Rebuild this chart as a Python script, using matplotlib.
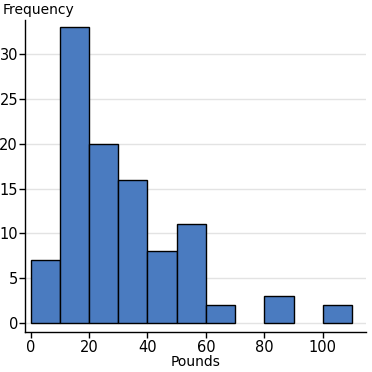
import matplotlib
matplotlib.use("Agg")
import matplotlib.pyplot as plt
import numpy as np

bin_edges = [0, 10, 20, 30, 40, 50, 60, 70, 80, 90, 100, 110]
counts = [7, 33, 20, 16, 8, 11, 2, 0, 3, 0, 2]
x_ticks = [0, 20, 40, 60, 80, 100]
y_ticks = [0, 5, 10, 15, 20, 25, 30]

plt.rcParams['font.family'] = ['DejaVu Sans']
fig = plt.figure(figsize=(3.72, 3.72), dpi=100)
ax = fig.add_axes([25/372, 1-332/372, (366-25)/372, (332-20)/372])

lefts = np.array(bin_edges[:-1])
widths = np.diff(bin_edges)
for l, w, c in zip(lefts, widths, counts):
    if c > 0:
        ax.bar(l, c, width=w, align='edge', color='#4a7bc0', edgecolor='black', linewidth=1.0, zorder=3)

ax.set_xlim(-1.9, 114.8)
ax.set_ylim(-1.0, 33.8)
ax.set_xticks(x_ticks)
ax.set_yticks(y_ticks)
ax.yaxis.grid(True, color='#e3e3e3', linewidth=1.0, zorder=0)
ax.set_axisbelow(True)
for s in ['top', 'right']:
    ax.spines[s].set_visible(False)
for s in ['left', 'bottom']:
    ax.spines[s].set_color('black')
    ax.spines[s].set_linewidth(1.0)
ax.tick_params(axis='both', labelsize=10.5, length=4, width=1, color='black', pad=2)
ax.tick_params(axis='y', pad=1)
ax.set_xlabel('Pounds', fontsize=10, labelpad=0)
fig.text(3/372, 1-10/372, 'Frequency', fontsize=10, va='center', ha='left')

fig.savefig('out.png', dpi=100)
